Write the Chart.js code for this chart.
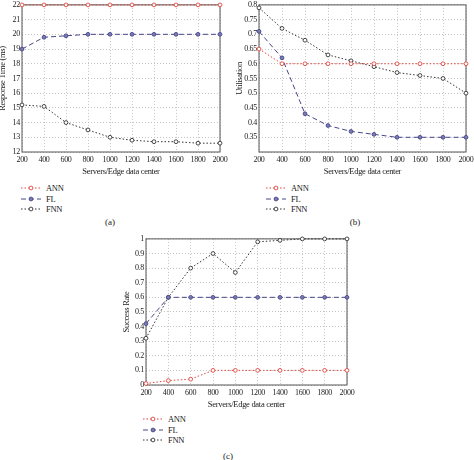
<!DOCTYPE html>
<html>
<head>
<meta charset="utf-8">
<script src="https://cdn.jsdelivr.net/npm/chart.js@4.4.1/dist/chart.umd.min.js"></script>
<style>
  body { margin: 0; background: #fff; width: 474px; height: 460px; overflow: hidden; position: relative; font-family: "Liberation Serif", serif; color: #222; }
  .box { position: absolute; }
  .legend { position: absolute; font-size: 8.5px; letter-spacing: -0.3px; }
  .legend div { display: flex; align-items: center; height: 10.5px; }
  .legend svg { margin-right: 5px; }
  .cap { position: absolute; font-size: 9px; transform: translate(-50%, -50%); }
</style>
</head>
<body>
<div class="box" style="left:-2px;top:0;width:234px;height:179px"><canvas id="chartA"></canvas></div>
<div class="box" style="left:235px;top:0;width:239px;height:179px"><canvas id="chartB"></canvas></div>
<div class="box" style="left:122px;top:234px;width:237px;height:178px"><canvas id="chartC"></canvas></div>
<div class="legend" id="legA" style="left:21px;top:183px"></div>
<div class="legend" id="legB" style="left:266px;top:183px"></div>
<div class="legend" id="legC" style="left:143px;top:414px"></div>
<div class="cap" style="left:110px;top:222px">(a)</div>
<div class="cap" style="left:355px;top:222px">(b)</div>
<div class="cap" style="left:228px;top:456px">(c)</div>
<script>
// x categories
const servers = [200, 400, 600, 800, 1000, 1200, 1400, 1600, 1800, 2000];
const seriesNames = ['ANN', 'FL', 'FNN'];

// (a) response time (ms)
const respANN = [22, 22, 22, 22, 22, 22, 22, 22, 22, 22];
const respFL = [19, 19.8, 19.9, 20, 20, 20, 20, 20, 20, 20];
const respFNN = [15.2, 15.1, 14, 13.5, 13, 12.8, 12.7, 12.7, 12.6, 12.6];

// (b) utilisation
const utilANN = [0.65, 0.6, 0.6, 0.6, 0.6, 0.6, 0.6, 0.6, 0.6, 0.6];
const utilFL = [0.71, 0.62, 0.43, 0.39, 0.37, 0.36, 0.35, 0.35, 0.35, 0.35];
const utilFNN = [0.79, 0.72, 0.68, 0.63, 0.61, 0.59, 0.57, 0.56, 0.55, 0.5];

// (c) success rate
const succANN = [0.01, 0.03, 0.04, 0.1, 0.1, 0.1, 0.1, 0.1, 0.1, 0.1];
const succFL = [0.42, 0.6, 0.6, 0.6, 0.6, 0.6, 0.6, 0.6, 0.6, 0.6];
const succFNN = [0.32, 0.6, 0.8, 0.9, 0.77, 0.98, 0.99, 1, 1, 1];

const styles = [
  { color: '#e0463e', dash: [1.5, 2], fill: '#fff' },
  { color: '#46468a', dash: [5, 3], fill: '#7c7cb4' },
  { color: '#333333', dash: [1.5, 2], fill: '#fff' }
];

const tickFont = { family: 'Liberation Serif', size: 8 };
const titleFont = { family: 'Liberation Serif', size: 8.5 };

// box around the plot area, plus slightly tighter text
const frame = {
  id: 'frame',
  beforeDraw(chart) {
    chart.ctx.letterSpacing = '-0.3px';
  },
  beforeDatasetsDraw(chart) {
    const a = chart.chartArea, ctx = chart.ctx;
    ctx.save();
    ctx.strokeStyle = '#555';
    ctx.lineWidth = 1;
    ctx.strokeRect(a.left, a.top, a.right - a.left, a.bottom - a.top);
    ctx.restore();
  }
};

function makeChart(id, series, yTitle, yMin, yMax, step, fmt, pad) {
  new Chart(document.getElementById(id), {
    type: 'line',
    data: {
      labels: servers,
      datasets: series.map((d, i) => ({
        label: seriesNames[i],
        data: d,
        borderColor: styles[i].color,
        borderDash: styles[i].dash,
        borderWidth: 1,
        pointRadius: 1.9,
        pointBorderWidth: 0.9,
        pointBackgroundColor: styles[i].fill,
        pointBorderColor: styles[i].color,
        tension: 0,
        clip: 6
      }))
    },
    options: {
      responsive: true,
      maintainAspectRatio: false,
      animation: false,
      layout: { padding: pad },
      plugins: { legend: { display: false }, tooltip: { enabled: false } },
      scales: {
        x: {
          grid: { color: '#c4c4c4', drawTicks: false },
          border: { display: false, dash: [1, 2] },
          ticks: { font: tickFont, color: '#222', padding: 3, maxRotation: 0, autoSkip: false },
          title: { display: true, text: 'Servers/Edge data center', font: titleFont, color: '#222', padding: { top: 0, bottom: 2 } },
          afterFit: s => { s.height = 27; s.paddingLeft = 0; s.paddingRight = 0; }
        },
        y: {
          min: yMin, max: yMax,
          grid: { color: '#c4c4c4', drawTicks: false },
          border: { display: false, dash: [1, 2] },
          ticks: { stepSize: step, font: tickFont, color: '#222', padding: 2, autoSkip: false, callback: fmt },
          title: { display: true, text: yTitle, font: titleFont, color: '#222', padding: 0 },
          afterFit: s => { s.width = 24; s.paddingTop = 0; s.paddingBottom = 0; }
        }
      }
    },
    plugins: [frame]
  });
}

const fmtNum = v => String(+v.toFixed(2));

makeChart('chartA', [respANN, respFL, respFNN], 'Response Time (ms)', 12, 22, 1, fmtNum,
  { left: 0, right: 12, top: 3, bottom: 0 });
makeChart('chartB', [utilANN, utilFL, utilFNN], 'Utilisation', 0.3, 0.8, 0.05,
  v => (Math.abs(v - 0.3) < 1e-6 ? '' : fmtNum(v)),
  { left: 0, right: 8, top: 3, bottom: 0 });
makeChart('chartC', [succANN, succFL, succFNN], 'Success Rate', 0, 1, 0.1, fmtNum,
  { left: 0, right: 12, top: 3, bottom: 0 });

// legends below each panel
function makeLegend(id) {
  const el = document.getElementById(id);
  seriesNames.forEach((name, i) => {
    const s = styles[i];
    const row = document.createElement('div');
    row.innerHTML =
      '<svg width="20" height="8"><line x1="0" y1="4" x2="20" y2="4" stroke="' + s.color +
      '" stroke-width="1" stroke-dasharray="' + s.dash.join(' ') + '"/>' +
      '<circle cx="10" cy="4" r="1.9" fill="' + s.fill + '" stroke="' + s.color + '" stroke-width="0.9"/></svg>' +
      '<span>' + name + '</span>';
    el.appendChild(row);
  });
}
makeLegend('legA');
makeLegend('legB');
makeLegend('legC');
</script>
</body>
</html>
